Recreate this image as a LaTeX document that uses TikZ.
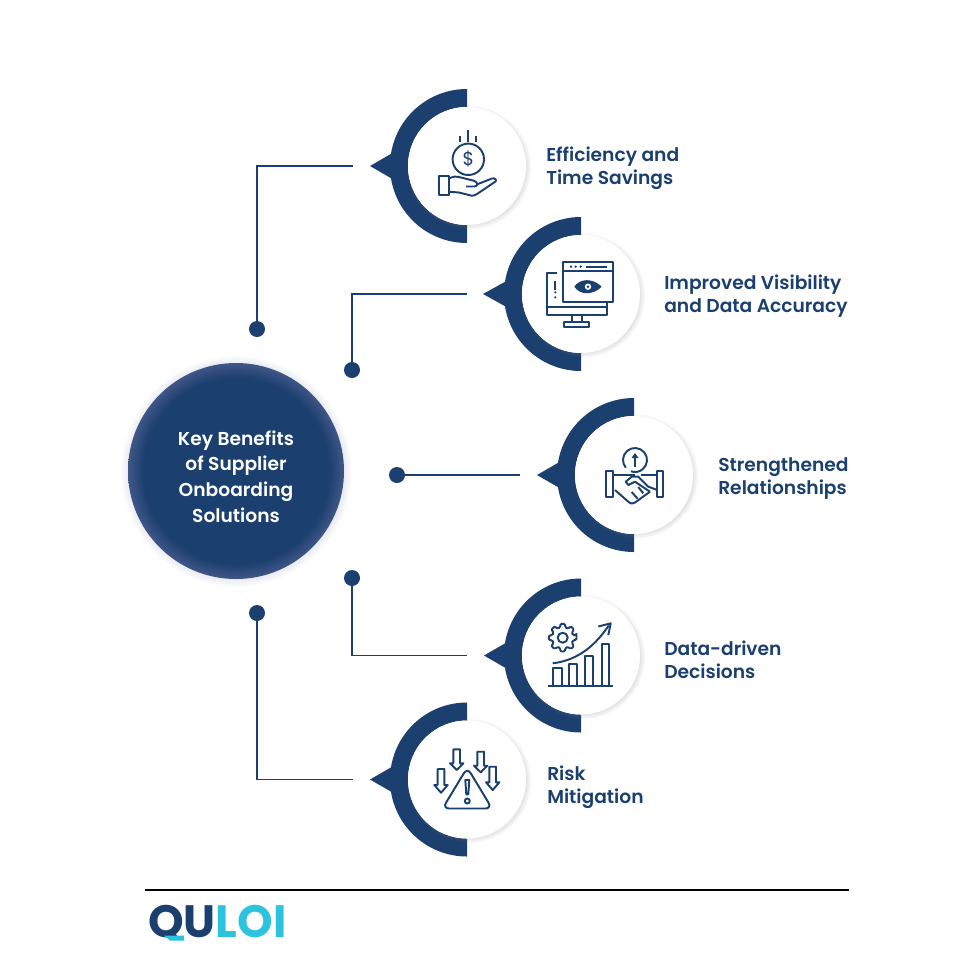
\documentclass[tikz,border=0pt]{standalone}
\usepackage{fontspec}
\setmainfont{Poppins}[BoldFont=Poppins SemiBold]
\newfontfamily\logofont{Poppins Bold}
\usetikzlibrary{shadows,fadings}
\definecolor{navy}{HTML}{1B3F6E}
\definecolor{hubedge}{HTML}{3F5688}
\definecolor{sky}{HTML}{2CC3DE}
\pgfdeclareradialshading{hubshade}{\pgfpoint{0bp}{0bp}}{color(0bp)=(navy); color(21.5bp)=(navy); color(25bp)=(hubedge); color(50bp)=(hubedge)}
\tikzset{
  ringfill/.style={fill=navy,draw=none},
  whitedisc/.style={circle,fill=white,minimum size=118*.75pt,inner sep=0pt,
    circular drop shadow={shadow xshift=1.2pt,shadow yshift=-.8pt,shadow scale=1.06,opacity=.35}},
  dotnode/.style={circle,fill=navy,minimum size=16*.75pt,inner sep=0pt},
  wire/.style={draw=navy,line width=1pt},
  icon/.style={draw=navy,line width=1.45pt,line join=round},
  iconfill/.style={fill=navy,draw=none},
  benefit/.style={anchor=west,inner sep=0pt,align=left,text=navy,font=\fontsize{14}{17.25}\selectfont\bfseries},
}
\begin{document}
\begin{tikzpicture}[x=.75pt,y=-.75pt]
\useasboundingbox (0,0) rectangle (980,979);
\fill[white] (0,0) rectangle (980,979);

\node[circle,minimum size=216*.75pt,inner sep=0pt,shade,shading=hubshade,
  circular glow={shadow scale=1.07,fill=hubedge,opacity=.25}] (hub) at (236,471) {};
\node[align=center,inner sep=0pt,text=white,font=\fontsize{14}{19.3}\selectfont\bfseries] (hubtext) at (236,476.5)
  {Key Benefits\\of Supplier\\Onboarding\\Solutions};

% efficiency
\begin{scope}[shift={(467,166)}]
\fill[ringfill] (0,-77) arc[start angle=270,end angle=90,radius=77] -- (0,59) arc[start angle=90,end angle=270,radius=59] -- cycle;
\fill[ringfill] (-74.5,-13) -- (-97,0) -- (-74.5,13) -- cycle;
\coordinate (end1) at (-114,0);
\node[whitedisc] (disc1) at (0,0) {};
\node[benefit] (text1) at (79,2) {Efficiency and\\Time Savings};
\draw[icon] (1.3,-6.7) circle (15.7);
\node[text=navy,inner sep=0pt,font=\fontsize{14}{14}\selectfont] (coin) at (1.3,-6.7) {\$};
\draw[icon] (-7,-30) -- (-7,-24.3);
\draw[icon] (1.3,-36) -- (1.3,-24.3);
\draw[icon] (9,-30) -- (9,-24.3);
\draw[icon] (-28,9.7) rectangle (-18,29);
\draw[icon] (-18,12.3) .. controls (-13,10.5) and (-11,10) .. (-8,11) -- (6,14.5) .. controls (11,15.5) and (12,20.5) .. (7,20.5) -- (-1,20.5);
\draw[icon] (11,18) -- (25,12.5) .. controls (28,11.5) and (30,14.5) .. (28.5,15.5) -- (10,28) .. controls (6,30.5) and (3,30) .. (0,28.5) -- (-8,26.5) -- (-18,25.7);
\end{scope}

% visibility
\begin{scope}[shift={(581,294)}]
\fill[ringfill] (0,-77) arc[start angle=270,end angle=90,radius=77] -- (0,59) arc[start angle=90,end angle=270,radius=59] -- cycle;
\fill[ringfill] (-74.5,-13) -- (-98,0) -- (-74.5,13) -- cycle;
\coordinate (end2) at (-114,0);
\node[whitedisc] (disc2) at (0,0) {};
\node[benefit] (text2) at (83,2) {Improved Visibility\\and Data Accuracy};
\draw[icon] (-17.7,-32.3) rectangle (32.3,7.7);
\draw[icon] (-17.7,-23) -- (32.3,-23);
\fill[iconfill] (-10,-27.3) circle (1.3) (-5.3,-27.3) circle (1.3) (-.3,-27.3) circle (1.3);
\fill[iconfill] (4.7,-28.3) rectangle (26.3,-26.3);
\fill[iconfill] (-6.7,-7.3) .. controls (-1,-16) and (12,-16) .. (20.7,-7.3) .. controls (12,1.4) and (-1,1.4) .. (-6.7,-7.3) -- cycle;
\fill[white] (7,-7.3) circle (3.2);
\fill[iconfill] (7,-7.3) circle (1.4);
\draw[icon] (-24.3,-21.3) -- (-33.7,-21.3) -- (-33.7,21) -- (25.7,21) -- (25.7,7.7);
\draw[icon] (-33.7,13.3) -- (25.7,13.3);
\draw[icon] (-8.7,21) -- (-8.7,27.7);
\draw[icon] (.7,21) -- (.7,27.7);
\draw[icon] (-17,27.7) rectangle (8,33.3);
\fill[iconfill] (-26.7,-13.3) rectangle (-24.7,-4);
\fill[iconfill] (-25.7,-1.7) circle (1.2) (-25.7,3.3) circle (1.2);
\end{scope}

% relationships
\begin{scope}[shift={(634,475)}]
\fill[ringfill] (0,-77) arc[start angle=270,end angle=90,radius=77] -- (0,59) arc[start angle=90,end angle=270,radius=59] -- cycle;
\fill[ringfill] (-74.5,-13) -- (-97,0) -- (-74.5,13) -- cycle;
\coordinate (end3) at (-114,0);
\node[whitedisc] (disc3) at (0,0) {};
\node[benefit] (text3) at (84,4) {Strengthened\\Relationships};
\draw[icon] (1,-15) ++(140:12) arc[start angle=140,end angle=470,radius=12];
\draw[icon] (1,-8.3) -- (1,-18);
\fill[iconfill] (-2.5,-17) -- (1,-22) -- (4.5,-17) -- cycle;
\draw[icon] (-28,-4) rectangle (-21.3,21.7);
\draw[icon] (23.3,-4) rectangle (29.3,21.7);
\draw[icon] (-21.3,0) -- (1,0);
\draw[icon] (7,0) -- (23.3,0);
\draw[icon] (-19,15) -- (-5.7,26.7) .. controls (-3,29) and (-1,29) .. (1,27.5) -- (16,16.7);
\draw[icon] (23.3,15) -- (14.3,11.7) -- (4.3,1.7) -- (-2.3,1.7) -- (-8.3,6.7) -- (-5.7,10) -- (1,6.7) -- (16,16.7);
\draw[icon] (-2.3,17) -- (3.7,23.7);
\draw[icon] (4.3,12) -- (9.3,18.3);
\end{scope}

% decisions
\begin{scope}[shift={(581,655.5)}]
\fill[ringfill] (0,-77) arc[start angle=270,end angle=90,radius=77] -- (0,59) arc[start angle=90,end angle=270,radius=59] -- cycle;
\fill[ringfill] (-74.5,-13) -- (-97,0) -- (-74.5,13) -- cycle;
\coordinate (end4) at (-114,0);
\node[whitedisc] (disc4) at (0,0) {};
\node[benefit] (text4) at (83,4.5) {Data-driven\\Decisions};
\begin{scope}[shift={(-18.3,-17.8)}]
\draw[icon,rounded corners=1] (-10:14) \foreach \a in {0,45,...,315} {-- (\a-10:14) -- (\a+10:14) -- (\a+14:10.5) -- (\a+31:10.5)} -- cycle;
\draw[icon] (0,0) circle (5);
\end{scope}
\draw[icon] (-27.7,30.5) -- (-27.7,12.8) -- (-19.3,12.8) -- (-19.3,30.5);
\draw[icon] (-11.7,30.5) -- (-11.7,8.8) -- (-3.7,8.8) -- (-3.7,30.5);
\draw[icon] (4,30.5) -- (4,.2) -- (12.3,.2) -- (12.3,30.5);
\draw[icon] (20.7,30.5) -- (20.7,-11.5) -- (28.3,-11.5) -- (28.3,30.5);
\draw[navy,line width=1.9pt] (-32.7,30.5) -- (32.3,30.5);
\draw[icon] (-28.3,7.8) .. controls (-1,4.5) and (15.7,-12.2) .. (27.7,-30);
\draw[icon] (17.3,-29) -- (29.7,-32.2) -- (27.3,-20.5);
\end{scope}

% risk
\begin{scope}[shift={(467,779.5)}]
\fill[ringfill] (0,-77) arc[start angle=270,end angle=90,radius=77] -- (0,59) arc[start angle=90,end angle=270,radius=59] -- cycle;
\fill[ringfill] (-74.5,-13) -- (-97,0) -- (-74.5,13) -- cycle;
\coordinate (end5) at (-114,0);
\node[whitedisc] (disc5) at (0,0) {};
\node[benefit] (text5) at (80,7.5) {Risk\\Mitigation};
\draw[icon,rounded corners=5] (.3,-12) -- (-24.5,29) -- (25,29) -- cycle;
\draw[icon] (-1.7,.5) -- (2.3,.5) -- (1.3,14.8) -- (-.7,14.8) -- cycle;
\draw[icon] (.3,21.5) circle (2.5);
\draw[icon] (-13.6,-30.2) -- (-7,-30.2) -- (-7,-16.2) -- (-3.6,-16.2) -- (-10.3,-9.5) -- (-17,-16.2) -- (-13.6,-16.2) -- cycle;
\draw[icon] (10.4,-27.8) -- (17,-27.8) -- (17,-13.8) -- (20.4,-13.8) -- (13.7,-7.2) -- (7,-13.8) -- (10.4,-13.8) -- cycle;
\draw[icon] (22.4,-12.8) -- (29,-12.8) -- (29,2.8) -- (32.4,2.8) -- (25.7,10.5) -- (19,2.8) -- (22.4,2.8) -- cycle;
\draw[icon] (-29.3,-10.5) -- (-22.7,-10.5) -- (-22.7,5.5) -- (-19.3,5.5) -- (-26,13.2) -- (-32.7,5.5) -- (-29.3,5.5) -- cycle;
\end{scope}

% connectors
\node[dotnode] (dot1) at (257,329) {};
\node[dotnode] (dot2) at (352,370) {};
\node[dotnode] (dot3) at (397,475) {};
\node[dotnode] (dot4) at (352,578) {};
\node[dotnode] (dot5) at (257,613) {};
\draw[wire] (dot1) |- (end1);
\draw[wire] (dot2) |- (end2);
\draw[wire] (dot3) -- (end3);
\draw[wire] (dot4) |- (end4);
\draw[wire] (dot5) |- (end5);

% footer
\coordinate (ruleleft) at (145,890);
\coordinate (ruleright) at (849,890);
\draw[black,line width=1.5pt] (ruleleft) -- (ruleright);
\node[anchor=west,inner sep=0pt,font=\fontsize{34}{34}\logofont] (logo) at (148,924)
  {\textcolor{navy}{QU}\textcolor{sky}{LOI}};
\fill[white] (165,939) rectangle (186,945);
\fill[sky] (164,935.5) -- (184,935.5) -- (184,940.5) -- (170,940.5) -- cycle;
\end{tikzpicture}
\end{document}
